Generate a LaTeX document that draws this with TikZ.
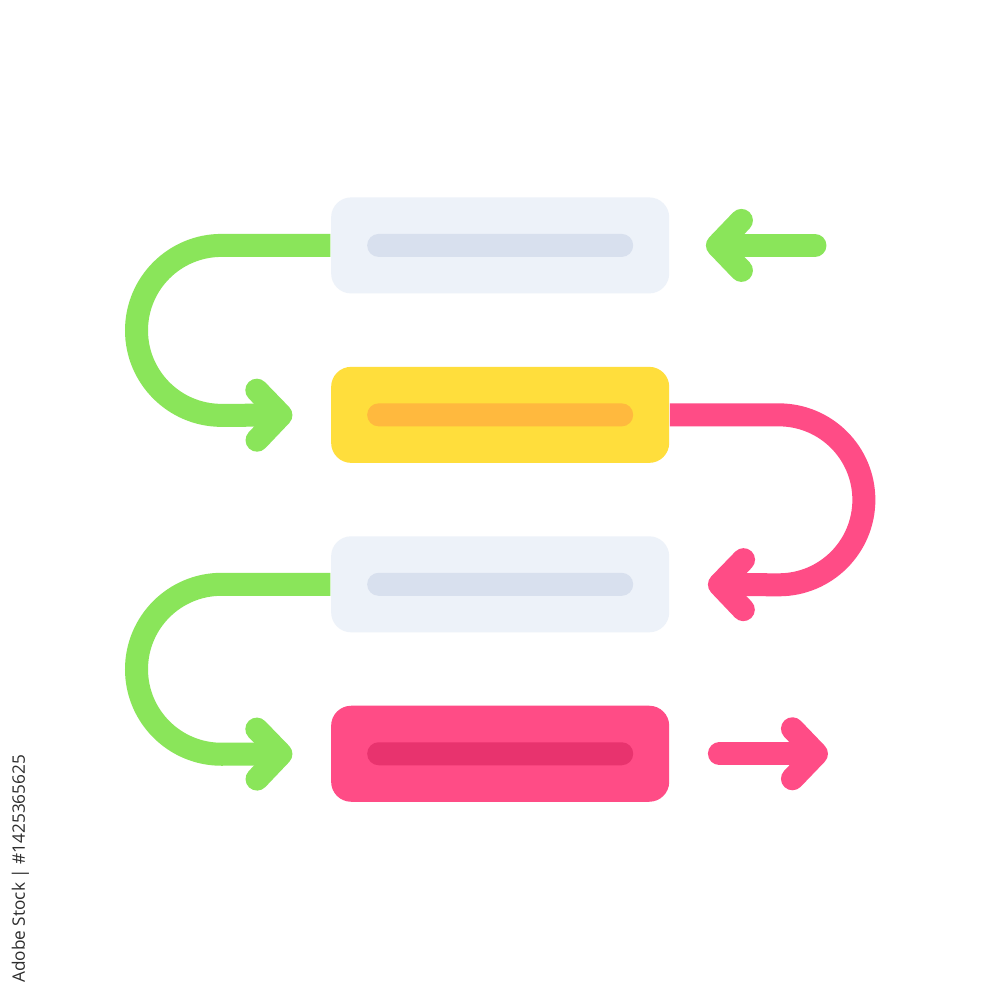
\documentclass[tikz,border=0pt]{standalone}
\usepackage{fontspec}
\newfontfamily\stockfont{Open Sans}
\usepackage{tikz}
\usetikzlibrary{arrows.meta, positioning}
\usepackage{xcolor}
\definecolor{flowgreen}{RGB}{138,229,90}
\definecolor{flowpink}{RGB}{255,76,134}
\definecolor{cardgrey}{RGB}{237,242,249}
\definecolor{bargrey}{RGB}{216,224,238}
\definecolor{cardyellow}{RGB}{255,222,60}
\definecolor{baryellow}{RGB}{255,185,62}
\definecolor{barpink}{RGB}{232,51,110}
\definecolor{stockgrey}{RGB}{45,45,45}

\begin{document}
\begin{tikzpicture}[x=0.01cm,y=-0.01cm,node distance=0.72cm,
    card/.style={rectangle,rounded corners=0.2cm,minimum width=3.38cm,minimum height=0.96cm,inner sep=0pt},
    bar/.style={rectangle,rounded corners=0.115cm,minimum width=2.66cm,minimum height=0.23cm,inner sep=0pt},
    flow/.style={line width=0.23cm,-{Straight Barb[round,length=0.24cm,width=0.5cm]}}]
    \fill[white] (0,0) rectangle (1000,1000);

    \node[card,fill=cardgrey] (s1) at (500,245.5) {};
    \node[card,fill=cardyellow] (s2) [below=of s1] {};
    \node[card,fill=cardgrey] (s3) [below=of s2] {};
    \node[card,fill=flowpink] (s4) [below=of s3] {};

    \node[bar,fill=bargrey] (b1) at (s1) {};
    \node[bar,fill=baryellow] (b2) at (s2) {};
    \node[bar,fill=bargrey] (b3) at (s3) {};
    \node[bar,fill=barpink] (b4) at (s4) {};

    \coordinate (in) at ([xshift=1.45cm]s1.east);
    \coordinate (out) at ([xshift=1.58cm]s4.east);

    \draw[flow,flowgreen,line cap=round,shorten >=0.36cm] (in) -- (s1.east);
    \draw[flow,flowgreen,shorten >=0.38cm] (s1.west) -- ++(-109,0) arc[start angle=-90,end angle=-270,radius=85] -- (s2.west);
    \draw[flow,flowpink,shorten >=0.38cm] (s2.east) -- ++(109,0) arc[start angle=-90,end angle=90,radius=85] -- (s3.east);
    \draw[flow,flowgreen,shorten >=0.38cm] (s3.west) -- ++(-109,0) arc[start angle=-90,end angle=-270,radius=85] -- (s4.west);
    \draw[flow,flowpink,line cap=round,shorten <=0.495cm] (s4.east) -- (out);

    \node[rotate=90,text=stockgrey,font=\stockfont\fontsize{4.9}{5}\selectfont] (tag) at (20,869) {Adobe Stock | \#1425365625};
\end{tikzpicture}
\end{document}
